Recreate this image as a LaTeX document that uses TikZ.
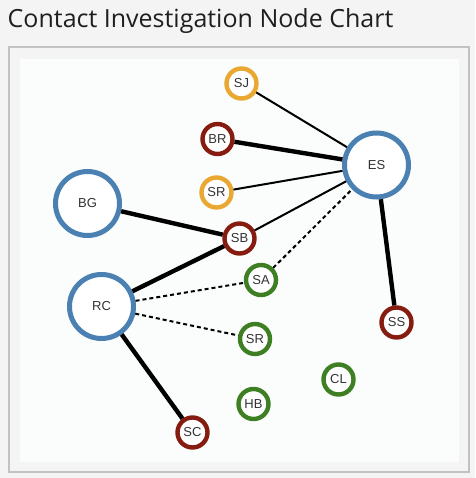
\documentclass[tikz,border=0pt]{standalone}
\usepackage{fontspec}
\setmainfont{Liberation Sans}
\newfontfamily\titlefont{Open Sans}
\definecolor{pagebg}{HTML}{F4F4F4}
\definecolor{framec}{HTML}{C2C2C2}
\definecolor{panelbg}{HTML}{FBFDFC}
\definecolor{ringblue}{HTML}{4B80B2}
\definecolor{ringred}{HTML}{861C10}
\definecolor{ringorange}{HTML}{E8A832}
\definecolor{ringgreen}{HTML}{3D7F22}
\definecolor{labelc}{HTML}{333333}
\tikzset{
  small/.style={circle,draw,line width=4.4pt,fill=white,minimum size=30pt,inner sep=0pt,
    font=\fontsize{13pt}{13pt}\selectfont,text=labelc},
  big/.style={circle,draw=ringblue,line width=5pt,fill=white,minimum size=64pt,inner sep=0pt,
    font=\fontsize{13pt}{13pt}\selectfont,text=labelc},
  red/.style={small,draw=ringred},
  orange/.style={small,draw=ringorange},
  green/.style={small,draw=ringgreen},
  thin/.style={line width=2pt,black},
  thick/.style={line width=4.4pt,black},
  dot/.style={line width=2pt,black,dash pattern=on 4pt off 3pt},
}
\begin{document}
\begin{tikzpicture}[x=1pt,y=-1pt]
\fill[pagebg] (0,0) rectangle (475,478);
\useasboundingbox (0,0) rectangle (475,478);
\node[anchor=base west,inner sep=0pt,text=black!88,font=\titlefont\fontsize{25pt}{25pt}\selectfont] (title) at (7.5,27.5) {Contact Investigation Node Chart};
\draw[framec,line width=2pt,fill=pagebg] (9,47) rectangle (469,472);
\fill[panelbg] (20,59) rectangle (459,462);
% nodes
\node[orange] (SJ) at (241.5,83.5) {SJ};
\node[red] (BR) at (217.5,139) {BR};
\node[orange] (SRo) at (216.5,192.5) {SR};
\node[red] (SB) at (239.5,238.5) {SB};
\node[big] (ES) at (376.5,165) {ES};
\node[big] (BG) at (87.5,203.5) {BG};
\node[big] (RC) at (101.5,306.5) {RC};
\node[green] (SA) at (261,280) {SA};
\node[green] (SRg) at (255,339) {SR};
\node[red] (SS) at (396.5,322.5) {SS};
\node[green] (CL) at (338.5,379.5) {CL};
\node[green] (HB) at (253.5,404) {HB};
\node[red] (SC) at (192.5,432.5) {SC};
% edges
\draw[thin] (SJ) -- (ES);
\draw[thick] (BR) -- (ES);
\draw[thin] (SRo) -- (ES);
\draw[thin] (SB) -- (ES);
\draw[dot] (SA) -- (ES);
\draw[thick] (ES) -- (SS);
\draw[thick] (BG) -- (SB);
\draw[thick] (RC) -- (SB);
\draw[dot] (RC) -- (SA);
\draw[dot] (RC) -- (SRg);
\draw[thick] (RC) -- (SC);
\end{tikzpicture}
\end{document}
